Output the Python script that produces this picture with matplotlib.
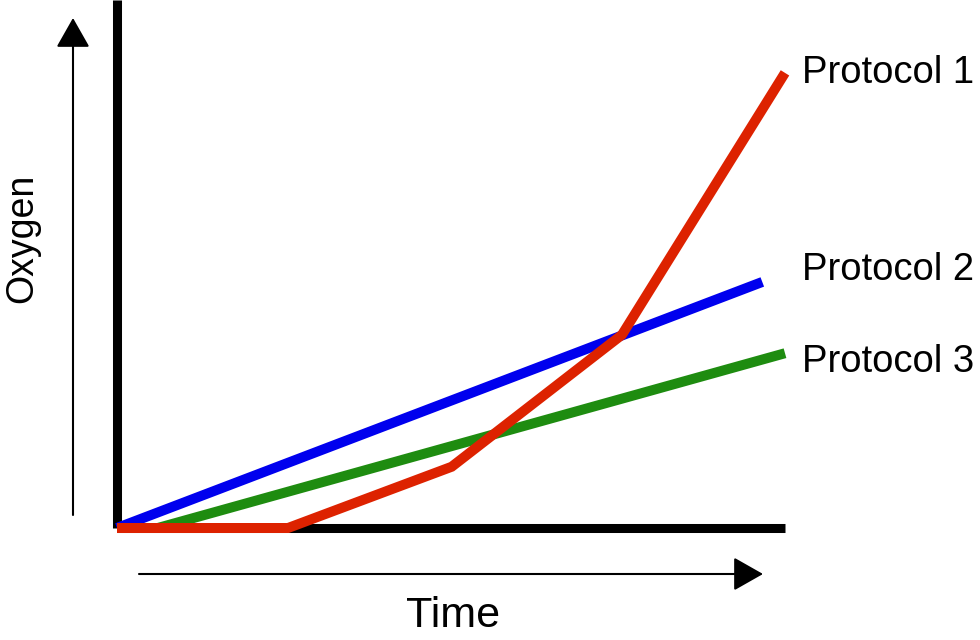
"""Schematic: oxygen vs time for three protocols (no ticks, arrow-style axis labels)."""
import matplotlib
matplotlib.use("Agg")
import matplotlib.pyplot as plt

plt.rcParams["font.family"] = ["Liberation Sans", "DejaVu Sans"]

# data (arbitrary units)
PROTOCOLS = ["Protocol 1", "Protocol 2", "Protocol 3"]
TIME = {
    "Protocol 1": [0.0, 2.56, 5.01, 7.56, 10.0],
    "Protocol 2": [0.0, 9.66],
    "Protocol 3": [0.61, 10.0],
}
OXYGEN = {
    "Protocol 1": [0.0, 0.0, 1.16, 3.66, 8.62],
    "Protocol 2": [0.0, 4.66],
    "Protocol 3": [0.0, 3.31],
}
LABEL_TIME = 10.25
LABEL_OXYGEN = {"Protocol 1": 8.43, "Protocol 2": 4.70, "Protocol 3": 2.95}
COLORS = {"Protocol 1": "#DD2200", "Protocol 2": "#0000EE", "Protocol 3": "#1E8C10"}
ZORDER = {"Protocol 1": 5, "Protocol 2": 4, "Protocol 3": 3}
X_MAX, Y_MAX = 10.0, 10.0

W, H = 980, 640
fig = plt.figure(figsize=(W / 100, H / 100), dpi=100)
# origin of the sketch sits at pixel (117, 528)
ax = fig.add_axes([117 / W, (H - 528) / H, (785 - 117) / W, 528 / H])
ax.set_xlim(0, X_MAX)
ax.set_ylim(0, Y_MAX)
ax.set_xticks([])
ax.set_yticks([])
for side in ("top", "right"):
    ax.spines[side].set_visible(False)
for side in ("left", "bottom"):
    ax.spines[side].set_linewidth(6.5)
    ax.spines[side].set_color("black")
    ax.spines[side].set_capstyle("butt")
    ax.spines[side].set_zorder(1)

for name in PROTOCOLS:
    ax.plot(TIME[name], OXYGEN[name], color=COLORS[name], lw=7.2,
            solid_capstyle="butt", solid_joinstyle="miter",
            zorder=ZORDER[name], clip_on=False)
    ax.text(LABEL_TIME, LABEL_OXYGEN[name], name, fontsize=27.5,
            ha="left", va="baseline", clip_on=False)

# thin arrows standing in for the axis labels
arrow_kw = dict(arrowstyle="-|>,head_length=18.5,head_width=10.5",
                mutation_scale=1, color="black", lw=1.5,
                shrinkA=0, shrinkB=0)
ax.annotate("", xy=(73, H - 18), xytext=(73, H - 515),
            xycoords="figure pixels", textcoords="figure pixels",
            arrowprops=arrow_kw, annotation_clip=False)
ax.annotate("", xy=(763, H - 574), xytext=(139, H - 574),
            xycoords="figure pixels", textcoords="figure pixels",
            arrowprops=arrow_kw, annotation_clip=False)

fig.text(453 / W, (H - 627) / H, "Time", fontsize=31, ha="center", va="baseline")
fig.text(32 / W, (H - 238) / H, "Oxygen", fontsize=27, rotation=90,
         rotation_mode="anchor", ha="center", va="baseline")

fig.savefig("out.png", dpi=100)
